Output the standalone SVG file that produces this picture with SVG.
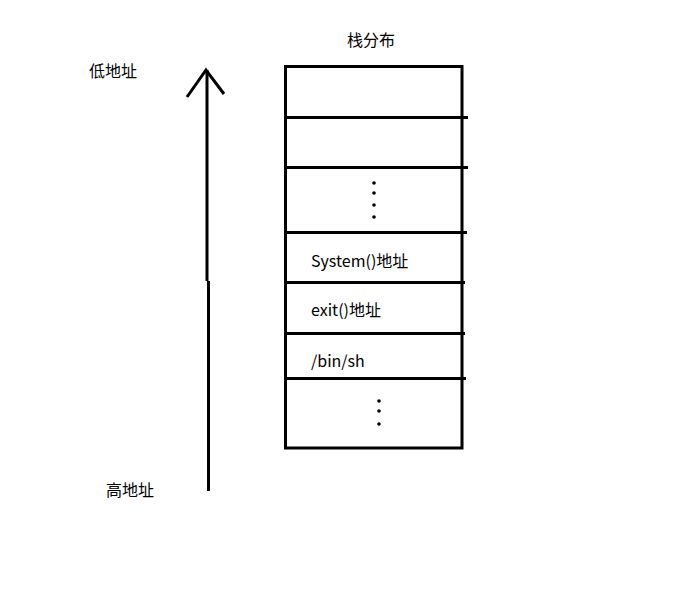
<svg xmlns="http://www.w3.org/2000/svg" width="693" height="609" viewBox="0 0 693 609">
<style>
.t{font-family:"Noto Sans CJK SC","Noto Sans",sans-serif;font-size:16px;fill:#000}
.s{stroke:#000;stroke-width:3;fill:none}
</style>
<rect width="693" height="609" fill="#fff"/>
<g id="arrow">
<line class="s" x1="207" y1="70" x2="207" y2="281"/>
<line class="s" x1="208.5" y1="281" x2="208.5" y2="491"/>
<polyline class="s" points="187,97 206,70 224,94"/>
</g>
<text class="t" x="89" y="77">低地址</text>
<text class="t" x="106" y="496">高地址</text>
<text class="t" x="347" y="46">栈分布</text>
<g id="stack">
<rect class="s" x="285.5" y="66.5" width="176.5" height="381.5"/>
<line class="s" x1="285" y1="117.5" x2="468" y2="117.5"/>
<line class="s" x1="285" y1="167.5" x2="468" y2="167.5"/>
<line class="s" x1="285" y1="232.5" x2="467" y2="232.5"/>
<line class="s" x1="285" y1="282.5" x2="465" y2="282.5"/>
<line class="s" x1="285" y1="333.5" x2="465" y2="333.5"/>
<line class="s" x1="285" y1="378.5" x2="466" y2="378.5"/>
</g>
<g id="dots1" fill="#000">
<circle cx="374" cy="183" r="1.8"/>
<circle cx="374" cy="193" r="1.8"/>
<circle cx="374" cy="205" r="1.8"/>
<circle cx="374" cy="217" r="1.8"/>
</g>
<g id="dots2" fill="#000">
<circle cx="379" cy="401" r="1.8"/>
<circle cx="379" cy="411" r="1.8"/>
<circle cx="379" cy="424" r="1.8"/>
</g>
<text class="t" x="311" y="267">System()地址</text>
<text class="t" x="311" y="316">exit()地址</text>
<text class="t" x="311" y="367">/bin/sh</text>
</svg>
